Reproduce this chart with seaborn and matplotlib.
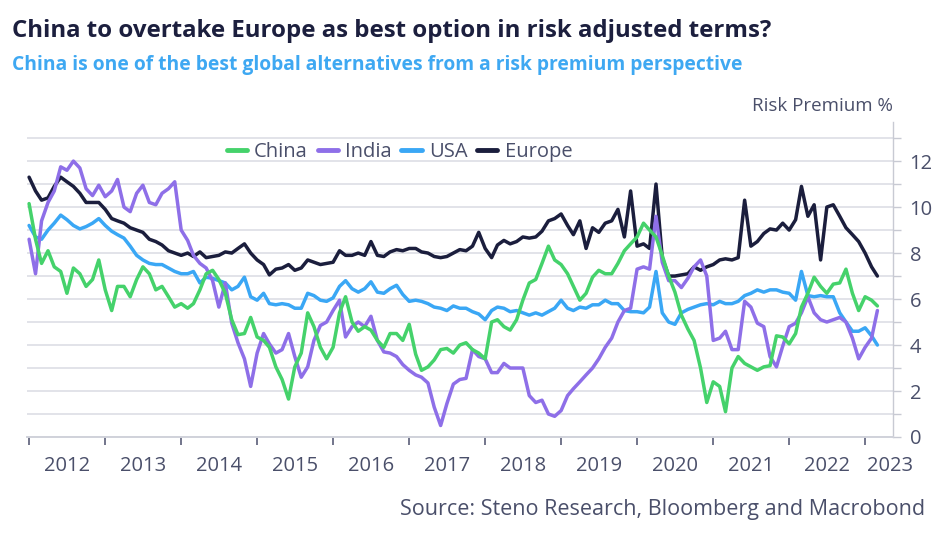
import numpy as np
import pandas as pd
import matplotlib
matplotlib.use("Agg")
import matplotlib.pyplot as plt
import matplotlib.dates as mdates
import seaborn as sns

# ---------------- data (monthly readings, Jan 2012 - Mar 2023) ----------------
dates = pd.date_range("2012-01-01", periods=135, freq="MS")

china = [10.15, 8.6, 7.55, 8.1, 7.4, 7.2, 6.25, 7.35, 7.1, 6.55, 6.85, 7.7,
         6.4, 5.5, 6.55, 6.55, 6.1, 6.85, 7.4, 7.1, 6.4, 6.55, 6.1, 5.65,
         5.8, 5.6, 5.8, 6.4, 7.1, 7.25, 6.85, 6.25, 5.1, 4.45, 4.5, 5.2,
         4.35, 4.2, 3.9, 3.05, 2.5, 1.65, 3.05, 3.65, 5.4, 4.8, 3.9, 3.4,
         3.9, 5.4, 6.1, 5.0, 4.6, 4.8, 4.65, 4.2, 3.9, 4.5, 4.5, 4.2,
         4.9, 3.6, 2.9, 3.05, 3.35, 3.8, 3.85, 3.65, 4.0, 4.1, 3.8, 3.65,
         3.4, 5.0, 5.1, 4.8, 4.65, 5.1, 5.95, 6.7, 6.85, 7.55, 8.3, 7.7,
         7.5, 7.1, 6.55, 5.95, 6.25, 6.95, 7.25, 7.1, 7.1, 7.55, 8.1, 8.4,
         8.7, 9.3, 9.0, 8.7, 7.9, 7.0, 6.3, 5.3, 4.7, 4.2, 3.0, 1.5,
         2.4, 2.2, 1.1, 3.0, 3.5, 3.2, 3.05, 2.9, 3.05, 3.1, 4.4, 4.35,
         4.05, 4.5, 5.65, 6.25, 6.95, 6.55, 6.25, 6.65, 6.7, 7.3, 6.25, 5.5,
         6.1, 5.95, 5.7]

india = [8.6, 7.1, 9.4, 10.2, 10.7, 11.75, 11.6, 12.0, 11.7, 10.8, 10.5, 10.95,
         10.45, 10.7, 11.2, 10.0, 9.8, 10.6, 10.95, 10.2, 10.1, 10.6, 10.8, 11.1,
         9.0, 8.55, 7.9, 7.55, 7.35, 6.8, 5.65, 6.7, 4.95, 4.1, 3.4, 2.2,
         3.65, 4.5, 4.05, 3.65, 3.8, 4.5, 3.5, 2.6, 3.05, 4.2, 4.85, 5.0,
         5.5, 5.95, 4.35, 4.8, 5.0, 4.8, 5.25, 4.2, 3.7, 3.65, 3.5, 3.15,
         2.9, 2.7, 2.6, 2.35, 1.3, 0.5, 1.45, 2.3, 2.5, 2.55, 3.8, 3.5,
         3.4, 2.8, 2.8, 3.2, 3.0, 3.0, 3.0, 1.8, 1.5, 1.6, 1.0, 0.9,
         1.15, 1.8, 2.1, 2.4, 2.7, 3.0, 3.4, 3.9, 4.3, 5.0, 5.5, 5.6,
         7.3, 7.4, 7.3, 9.6, 7.6, 6.8, 6.8, 6.5, 6.9, 7.4, 7.7, 7.0,
         4.2, 4.3, 4.6, 3.8, 3.8, 5.9, 5.65, 4.95, 4.8, 3.5, 3.05, 3.95,
         4.8, 4.95, 5.4, 6.1, 5.4, 5.1, 5.0, 5.1, 5.2, 5.0, 4.3, 3.4,
         3.9, 4.3, 5.5]

usa = [9.2, 8.7, 8.6, 9.0, 9.3, 9.65, 9.45, 9.2, 9.05, 9.15, 9.3, 9.5,
       9.2, 8.95, 8.8, 8.65, 8.3, 7.9, 7.7, 7.55, 7.5, 7.5, 7.35, 7.2,
       7.1, 7.1, 7.2, 6.7, 6.95, 6.9, 6.8, 6.7, 6.4, 6.55, 6.95, 6.1,
       5.95, 6.25, 5.8, 5.75, 5.8, 5.75, 5.6, 5.6, 6.25, 6.15, 5.95, 5.9,
       6.05, 6.55, 6.8, 6.45, 6.3, 6.45, 6.75, 6.3, 6.25, 6.45, 6.6, 6.2,
       5.9, 5.95, 5.9, 5.8, 5.65, 5.6, 5.5, 5.7, 5.6, 5.6, 5.45, 5.35,
       5.1, 5.5, 5.65, 5.6, 5.45, 5.5, 5.4, 5.3, 5.4, 5.3, 5.45, 5.6,
       5.95, 5.6, 5.5, 5.65, 5.6, 5.75, 5.75, 5.95, 5.8, 5.8, 5.5, 5.45,
       5.45, 5.4, 5.65, 7.2, 5.4, 5.0, 4.9, 5.4, 5.55, 5.65, 5.75, 5.8,
       5.75, 5.9, 5.8, 5.8, 5.9, 6.15, 6.25, 6.4, 6.3, 6.4, 6.4, 6.3,
       6.25, 5.95, 7.2, 6.15, 6.1, 6.15, 6.1, 6.1, 5.4, 5.0, 4.6, 4.6,
       4.75, 4.4, 4.0]

europe = [11.3, 10.7, 10.3, 10.4, 10.9, 11.3, 11.1, 10.9, 10.6, 10.2, 10.2, 10.2,
          9.9, 9.5, 9.4, 9.3, 9.1, 9.0, 8.9, 8.6, 8.5, 8.35, 8.1, 8.0,
          7.9, 8.0, 7.85, 8.05, 7.8, 7.85, 7.9, 8.05, 8.0, 8.2, 8.4, 8.0,
          7.7, 7.5, 7.05, 7.3, 7.35, 7.5, 7.25, 7.35, 7.7, 7.6, 7.5, 7.55,
          7.6, 8.1, 7.9, 7.9, 8.0, 7.9, 8.5, 7.9, 7.85, 8.05, 8.15, 8.1,
          8.2, 8.2, 8.05, 8.0, 7.85, 7.8, 7.85, 8.0, 8.15, 8.1, 8.3, 8.9,
          8.2, 7.8, 8.35, 8.55, 8.4, 8.5, 8.7, 8.65, 8.7, 8.95, 9.4, 9.5,
          9.7, 9.2, 8.8, 9.4, 8.2, 9.1, 8.9, 9.3, 9.4, 9.9, 8.7, 10.7,
          8.3, 8.4, 8.2, 11.0, 7.8, 7.0, 7.0, 7.05, 7.1, 7.4, 7.25, 7.4,
          7.5, 7.7, 7.75, 7.7, 7.8, 10.3, 8.3, 8.5, 8.85, 9.05, 9.0, 9.3,
          9.0, 9.45, 10.9, 9.6, 10.1, 7.7, 10.0, 10.1, 9.6, 9.1, 8.8, 8.5,
          8.0, 7.4, 7.0]

series_names = ["China", "India", "USA", "Europe"]
series_colors = ["#45D26B", "#8E6FE8", "#3AA7F5", "#1B1E3D"]
year_labels = [str(y) for y in range(2012, 2024)]
y_ticks = list(range(0, 14))

title = "China to overtake Europe as best option in risk adjusted terms?"
subtitle = "China is one of the best global alternatives from a risk premium perspective"
axis_title = "Risk Premium %"
source = "Source: Steno Research, Bloomberg and Macrobond"

df = pd.DataFrame({
    "date": np.tile(dates.values, 4),
    "series": np.repeat(series_names, len(dates)),
    "value": china + india + usa + europe,
})

# ---------------- style ----------------
sns.set_theme(style="white")
plt.rcParams["font.family"] = ["Open Sans", "DejaVu Sans"]

text_col = "#4A4F6A"
grid_col = "#E2E3E9"

fig = plt.figure(figsize=(9.4, 5.37), dpi=100)
ax = fig.add_axes([27 / 940, 1 - 437 / 537, 866 / 940, (437 - 122) / 537])

sns.lineplot(data=df, x="date", y="value", hue="series", hue_order=series_names,
             palette=series_colors, linewidth=2.5, ax=ax)

zorders = {"#1B1E3D": 2, "#3AA7F5": 3, "#8E6FE8": 4, "#45D26B": 5}
for ln in ax.lines:
    c = matplotlib.colors.to_hex(ln.get_color()).upper()
    if c in zorders:
        ln.set_zorder(zorders[c])

# legend
handles, labels = ax.get_legend_handles_labels()
leg = ax.legend(handles, labels, ncol=4, loc="center", bbox_to_anchor=(0.43, 0.905),
                frameon=False, fontsize=14.5, handlelength=1.0, handletextpad=0.35,
                columnspacing=0.5, labelcolor=text_col, borderaxespad=0)
for h in leg.legend_handles:
    h.set_linewidth(3.5)

# y axis (right)
ax.set_ylim(0, 13.7)
ax.yaxis.tick_right()
ax.set_yticks(y_ticks)
ax.set_yticklabels([str(v) if (v % 2 == 0 and v <= 12) else "" for v in y_ticks])
ax.tick_params(axis="y", which="major", direction="out", length=6, width=1,
               color="#C8CAD3", labelsize=14.5, labelcolor=text_col, pad=6,
               right=True, left=False)
ax.grid(axis="y", color=grid_col, linewidth=1.4)
ax.grid(axis="x", visible=False)
ax.set_axisbelow(True)

# x axis
ax.set_xlim(mdates.date2num(pd.Timestamp("2011-12-22")), mdates.date2num(pd.Timestamp("2023-05-15")))
major = [mdates.date2num(pd.Timestamp(f"{y}-01-01")) for y in range(2012, 2024)]
minor = [mdates.date2num(pd.Timestamp(f"{y}-07-01")) for y in range(2012, 2023)] + \
        [mdates.date2num(pd.Timestamp("2023-05-01"))]
ax.set_xticks(major)
ax.set_xticklabels([""] * len(major))
ax.set_xticks(minor, minor=True)
ax.set_xticklabels(year_labels, minor=True)
ax.tick_params(axis="x", which="major", direction="out", length=6, width=1.2,
               color="#5A5E78", bottom=True)
ax.tick_params(axis="x", which="minor", length=0, pad=14, labelsize=14.5,
               labelcolor=text_col, bottom=True)

ax.set_xlabel("")
ax.set_ylabel("")
for s in ["top", "left"]:
    ax.spines[s].set_visible(False)
ax.spines["right"].set_color("#C8CAD3")
ax.spines["right"].set_linewidth(1.0)
ax.spines["bottom"].set_color("#D0D2DA")
ax.spines["bottom"].set_linewidth(1.4)

# texts
fig.text(12 / 940, 1 - 37 / 537, title, fontsize=17.3, fontweight="bold",
         color="#1C1F3E", ha="left", va="baseline")
fig.text(12 / 940, 1 - 70 / 537, subtitle, fontsize=13.9, fontweight="bold",
         color="#3EA8F2", ha="left", va="baseline")
fig.text(893 / 940, 1 - 111 / 537, axis_title, fontsize=13.5, color=text_col,
         ha="right", va="baseline")
fig.text(925 / 940, 1 - 515 / 537, source, fontsize=15.5, color=text_col,
         ha="right", va="baseline")

fig.savefig("out.png", dpi=100)
